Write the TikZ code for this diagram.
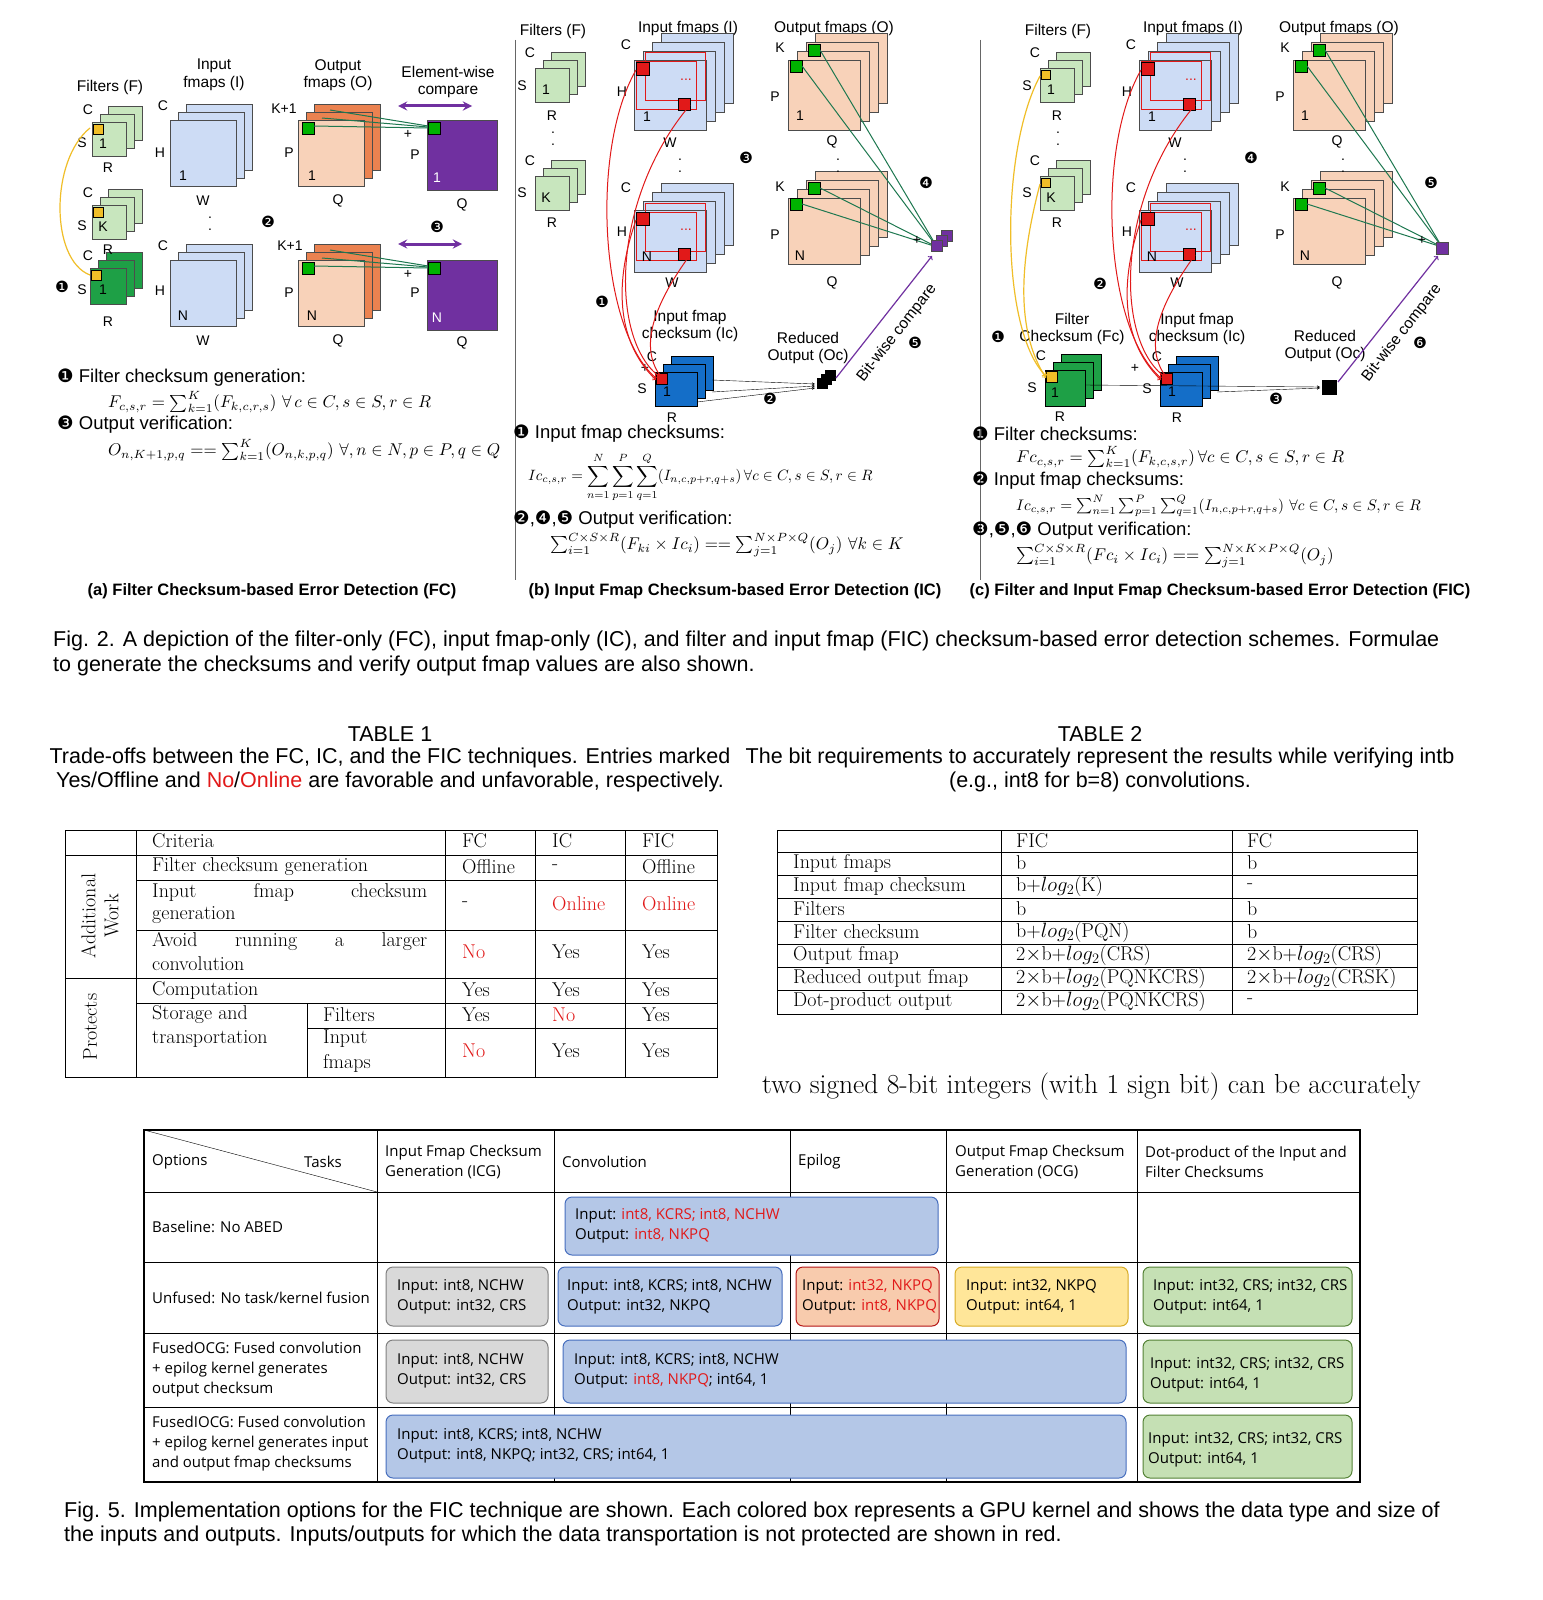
\documentclass[tikz,border=0pt]{standalone}
\usepackage{amsmath,amssymb}
\usepackage{fontspec}
\newfontfamily\lsans{Liberation Sans}
\newfontfamily\osans{Open Sans}
\newfontfamily\dvs{DejaVu Sans}
\newcommand\circnum[1]{{\dvs #1}}
\newcommand\fm[1]{\scalebox{1.7}{\normalsize #1}}
\newcommand\stk[7]{\foreach \i in {#5,...,0}{\draw[#7] ({#1+\i*#6},{#2-\i*#6}) rectangle ++(#3,#4);}}
\definecolor{lgreen}{RGB}{200,230,190}
\definecolor{dgreen}{RGB}{30,160,70}
\definecolor{lblue}{RGB}{205,220,245}
\definecolor{mblue}{RGB}{20,110,200}
\definecolor{peach}{RGB}{248,210,185}
\definecolor{dorange}{RGB}{235,130,80}
\definecolor{purp}{RGB}{112,48,160}
\definecolor{kgreen}{RGB}{30,120,80}
\definecolor{myred}{RGB}{225,25,25}
\definecolor{ygold}{RGB}{240,190,40}
\definecolor{bfill}{RGB}{180,199,231}
\definecolor{bdraw}{RGB}{70,110,190}
\definecolor{gfill}{RGB}{217,217,217}
\definecolor{ofill}{RGB}{248,203,173}
\definecolor{yfill}{RGB}{255,230,153}
\definecolor{grfill}{RGB}{197,224,180}
\definecolor{grdraw}{RGB}{84,130,53}
\tikzset{
 lab/.style={font=\lsans\fontsize{15.5}{17.5}\selectfont, inner sep=0pt, align=center},
 sm/.style={font=\lsans\fontsize{14}{16}\selectfont, inner sep=0pt},
 txt/.style={font=\lsans\fontsize{18.5}{21}\selectfont, inner sep=0pt, anchor=west},
 fml/.style={inner sep=0pt, anchor=west},
 capt/.style={font=\lsans\fontsize{21.5}{25}\selectfont, inner sep=0pt, anchor=west},
 tb/.style={font=\fontsize{20}{23}\selectfont, inner sep=0pt, anchor=west},
 fs/.style={font=\osans\fontsize{15}{20}\selectfont, inner sep=0pt, anchor=west, align=left},
 kbox/.style={rounded corners=7pt, line width=1pt},
 fg/.style={draw=black!70, fill=lgreen},
 fdg/.style={draw=black!70, fill=dgreen},
 fb/.style={draw=black!70, fill=lblue},
 fo/.style={draw=black!70, fill=peach},
 fob/.style={draw=black!70, fill=dorange},
 fp/.style={draw=black!70, fill=purp},
 gsq/.style={draw=black, fill=green!70!black},
 rsq/.style={draw=black, fill=myred},
 ysq/.style={draw=black, fill=ygold},
 gl/.style={kgreen, line width=1pt},
 sub/.style={font=\lsans\bfseries\fontsize{16.5}{18}\selectfont, inner sep=0pt},
}
\begin{document}
\begin{tikzpicture}[x=1pt,y=-1pt]
\useasboundingbox[fill=white] (0,0) rectangle (1542,1600);
% separators
\draw[black!60] (515,40) -- (515,580);
\draw[black!60] (980,40) -- (980,580);
%================ (a)
\node[lab] (fa) at (110,87) {Filters (F)};
\stk{92}{122}{34}{34}{2}{8}{fg}
\stk{92}{205}{34}{34}{2}{8}{fg}
\stk{90}{268}{36}{36}{2}{8}{fdg}
\draw[ysq] (93,124) rectangle ++(10,10);
\draw[ysq] (93,207) rectangle ++(10,10);
\draw[ysq] (91,270) rectangle ++(10,10);
\foreach \yy/\t in {122/1,205/K,268/1}{\node[sm] at (103,\yy+22) {\t};}
\node[sm] at (88,110){C};\node[sm] at (82,143){S};\node[sm] at (108,168){R};
\node[sm] at (88,193){C};\node[sm] at (82,226){S};\node[sm] at (108,250){R};
\node[sm] at (88,256){C};\node[sm] at (82,290){S};\node[sm] at (108,322){R};
\draw[ygold, line width=1.2pt] (90,128) .. controls (50,160) and (50,260) .. (90,275);
\node[lab] at (62,287) {\circnum{❶}};
\node[lab] at (214,75) {Input\\fmaps (I)};
\stk{170}{120}{66}{66}{2}{8}{fb}
\stk{170}{260}{66}{66}{2}{8}{fb}
\node[sm] at (183,176){1};\node[sm] at (160,153){H};\node[sm] at (163,106){C};\node[sm] at (203,201){W};
\node[sm] at (183,316){N};\node[sm] at (160,291){H};\node[sm] at (163,246){C};\node[sm] at (203,341){W};
\node[sm] at (210,218){.};\node[sm] at (210,230){.};
\node[lab] at (338,75) {Output\\fmaps (O)};
\stk{298}{120}{66}{66}{2}{8}{fob}
\draw[fo] (298,120) rectangle ++(66,66);
\stk{298}{260}{66}{66}{2}{8}{fob}
\draw[fo] (298,260) rectangle ++(66,66);
\draw[gsq] (302,122) rectangle ++(12,12);\draw[gsq] (302,262) rectangle ++(12,12);
\node[sm] at (284,109){K+1};\node[sm] at (289,153){P};\node[sm] at (338,201){Q};\node[sm] at (312,176){1};
\node[sm] at (290,246){K+1};\node[sm] at (289,293){P};\node[sm] at (338,341){Q};\node[sm] at (312,316){N};
\node[lab] at (268,222) {\circnum{❷}};
\node[lab] at (448,82) {Element-wise\\compare};
\draw[purp, line width=3pt, <->, >=stealth] (398,106) -- (472,106);
\draw[purp, line width=3pt, <->, >=stealth] (398,244) -- (462,244);
\draw[fp] (427,120) rectangle ++(70,70);\draw[fp] (427,260) rectangle ++(70,70);
\draw[gsq] (428,122) rectangle ++(12,12);\draw[gsq] (428,262) rectangle ++(12,12);
\node[sm] at (415,155){P};\node[sm] at (462,205){Q};\node[sm,white] at (437,178){1};
\node[sm] at (415,293){P};\node[sm] at (462,343){Q};\node[sm,white] at (437,318){N};
\node[lab] at (437,227){\circnum{❸}};
\foreach \dy in {0,140}{
 \draw[gl] (314,{126+\dy}) -- (428,{128+\dy});
 \draw[gl] (322,{118+\dy}) -- (428,{127+\dy});
 \draw[gl] (330,{110+\dy}) -- (428,{126+\dy});
 \node[sm] at (408,{134+\dy}){+};}
\node[txt] at (57,378) {\circnum{❶} Filter checksum generation:};
\node[fml] at (108,402) {\fm{$F_{c,s,r}=\sum_{k=1}^{K}(F_{k,c,r,s})\ \forall\, c\in C, s\in S, r\in R$}};
\node[txt] at (57,425) {\circnum{❸} Output verification:};
\node[fml] at (108,450) {\fm{$O_{n,K+1,p,q}==\sum_{k=1}^{K}(O_{n,k,p,q})\ \forall, n\in N, p\in P, q\in Q$}};
\node[sub] at (272,591) {(a) Filter Checksum-based Error Detection (FC)};
%================ (b) and (c) common parts
\foreach \ox/\nf/\nd in {0/❸/❹, 505/❹/❺}{
 \begin{scope}[xshift=\ox]
 \node[lab] at (553,31){Filters (F)};
 \stk{535}{68}{34}{34}{2}{8}{fg}
 \stk{535}{176}{34}{34}{2}{8}{fg}
 \node[sm] at (546,90){1};\node[sm] at (546,198){K};
 \node[sm] at (530,53){C};\node[sm] at (522,86){S};\node[sm] at (552,116){R};
 \node[sm] at (530,161){C};\node[sm] at (522,193){S};\node[sm] at (552,223){R};
 \node[sm] at (553,133){.};\node[sm] at (553,145){.};
 \node[lab] at (688,28){Input fmaps (I)};
 \stk{634}{60}{72}{70}{3}{9}{fb}
 \stk{634}{210}{72}{62}{3}{9}{fb}
 \foreach \yy in {60,210}{
  \draw[myred,line width=1pt] (636,\yy+2) rectangle ++(60,48);
  \draw[myred,line width=1pt] (645,\yy-7) rectangle ++(60,48);
  \draw[rsq] (636,\yy+2) rectangle ++(13,13);
  \draw[rsq] (678,\yy+38) rectangle ++(12,12);
  \node[sm,myred] at (686,\yy+20){...};}
 \node[sm] at (626,45){C};\node[sm] at (622,92){H};\node[sm] at (647,117){1};\node[sm] at (670,143){W};
 \node[sm] at (626,188){C};\node[sm] at (622,232){H};\node[sm] at (647,257){N};\node[sm] at (672,283){W};
 \node[sm] at (680,160){.};\node[sm] at (680,172){.};
 \node[lab] at (834,28){Output fmaps (O)};
 \stk{788}{60}{72}{70}{3}{9}{fo}
 \stk{788}{198}{72}{66}{3}{9}{fo}
 \draw[gsq] (790,60) rectangle ++(12,12);\draw[gsq] (808,44) rectangle ++(12,12);
 \draw[gsq] (790,198) rectangle ++(12,12);\draw[gsq] (808,182) rectangle ++(12,12);
 \node[sm] at (780,48){K};\node[sm] at (775,97){P};\node[sm] at (800,116){1};\node[sm] at (832,142){Q};
 \node[sm] at (780,187){K};\node[sm] at (775,235){P};\node[sm] at (800,256){N};\node[sm] at (832,283){Q};
 \node[sm] at (838,160){.};\node[sm] at (838,172){.};
 \node[lab] at (746,158){\circnum{\nf}};
 \node[lab] at (926,183){\circnum{\nd}};
 \coordinate (pp) at (937,247);
 \draw[gl] (802,66) -- (pp); \draw[gl] (820,50) -- (pp);
 \draw[gl] (802,204) -- (pp); \draw[gl] (820,188) -- (pp);
 \node[sm] at (917,240){+};
 \end{scope}}
% (b) specific
\stk{931}{240}{11}{11}{2}{5}{fp}
\node[lab] at (690,326){Input fmap\\checksum (Ic)};
\stk{655}{372}{42}{34}{2}{8}{draw=black, fill=mblue}
\draw[rsq] (656,373) rectangle ++(11,11);
\node[sm] at (652,357){C};\node[sm] at (642,389){S};\node[sm] at (667,392){1};\node[sm] at (672,418){R};
\node[sm] at (645,368){+};
\draw[myred,line width=1pt,->] (636,70) .. controls (590,150) and (600,330) .. (656,378);
\draw[myred,line width=1pt,->] (690,105) .. controls (610,200) and (610,340) .. (660,377);
\draw[myred,line width=1pt,->] (636,220) .. controls (615,280) and (615,340) .. (656,380);
\draw[myred,line width=1pt,->] (690,255) .. controls (650,310) and (640,350) .. (662,378);
\node[lab] at (602,302){\circnum{❶}};
\node[lab] at (808,348){Reduced\\Output (Oc)};
\stk{817}{378}{10}{10}{2}{4}{draw=black,fill=black}
\draw[->,>=stealth] (712,380) -- (815,384);\draw[->,>=stealth] (712,392) -- (815,386);\draw[->,>=stealth] (697,402) -- (815,388);
\node[lab] at (770,399){\circnum{❷}};
\draw[purp,line width=1.2pt,->] (836,378) -- (932,256);
\node[lab, rotate=52] at (897,333){Bit-wise compare};
\node[lab] at (915,343){\circnum{❺}};
\node[txt] at (513,434){\circnum{❶} Input fmap checksums:};
\node[fml] at (528,477){\scalebox{0.88}{\fm{$Ic_{c,s,r}=\displaystyle\sum_{n=1}^{N}\sum_{p=1}^{P}\sum_{q=1}^{Q}(I_{n,c,p+r,q+s})\,\forall c\in C, s\in S, r\in R$}}};
\node[txt] at (513,520){\circnum{❷},\circnum{❹},\circnum{❺} Output verification:};
\node[fml] at (550,545){\fm{$\sum_{i=1}^{C\times S\times R}(F_{ki}\times Ic_i)==\sum_{j=1}^{N\times P\times Q}(O_j)\ \forall k\in K$}};
\node[sub] at (735,591) {(b) Input Fmap Checksum-based Error Detection (IC)};
% (c) specific
\draw[fp] (1436,242) rectangle ++(12,12);
\draw[ysq] (1041,70) rectangle ++(9,9);\draw[ysq] (1041,178) rectangle ++(9,9);
\node[lab] at (1072,329){Filter\\Checksum (Fc)};
\stk{1045}{370}{40}{36}{2}{8}{draw=black, fill=dgreen}
\draw[ysq] (1046,371) rectangle ++(11,11);
\node[sm] at (1041,356){C};\node[sm] at (1032,388){S};\node[sm] at (1055,393){1};\node[sm] at (1060,417){R};
\draw[ygold,line width=1.2pt,->] (1040,76) .. controls (1000,150) and (1000,330) .. (1046,376);
\draw[ygold,line width=1.2pt,->] (1040,184) .. controls (1020,260) and (1015,330) .. (1046,378);
\node[lab] at (998,337){\circnum{❶}};
\node[lab] at (1197,329){Input fmap\\checksum (Ic)};
\stk{1160}{372}{42}{34}{2}{8}{draw=black, fill=mblue}
\draw[rsq] (1161,373) rectangle ++(11,11);
\node[sm] at (1157,357){C};\node[sm] at (1147,389){S};\node[sm] at (1172,392){1};\node[sm] at (1177,418){R};
\node[sm] at (1135,368){+};
\draw[myred,line width=1pt,->] (1141,70) .. controls (1095,150) and (1105,330) .. (1161,378);
\draw[myred,line width=1pt,->] (1195,105) .. controls (1115,200) and (1115,340) .. (1165,377);
\draw[myred,line width=1pt,->] (1141,220) .. controls (1120,280) and (1120,340) .. (1161,380);
\draw[myred,line width=1pt,->] (1195,255) .. controls (1155,310) and (1145,350) .. (1167,378);
\node[lab] at (1100,284){\circnum{❷}};
\node[lab] at (1325,346){Reduced\\Output (Oc)};
\draw[fill=black] (1322,380) rectangle ++(14,14);
\draw[->,>=stealth] (1085,385) -- (1320,387);\draw[->,>=stealth] (1217,392) -- (1320,388);
\node[lab] at (1276,399){\circnum{❸}};
\draw[purp,line width=1.2pt,->] (1338,382) -- (1438,256);
\node[lab, rotate=52] at (1402,333){Bit-wise compare};
\node[lab] at (1420,343){\circnum{❻}};
\node[txt] at (972,434){\circnum{❶} Filter checksums:};
\node[fml] at (1016,457){\fm{$Fc_{c,s,r}=\sum_{k=1}^{K}(F_{k,c,s,r})\,\forall c\in C, s\in S, r\in R$}};
\node[txt] at (972,481){\circnum{❷} Input fmap checksums:};
\node[fml] at (1016,506){\scalebox{0.9}{\fm{$Ic_{c,s,r}=\sum_{n=1}^{N}\sum_{p=1}^{P}\sum_{q=1}^{Q}(I_{n,c,p+r,q+s})\ \forall c\in C, s\in S, r\in R$}}};
\node[txt] at (972,531){\circnum{❸},\circnum{❺},\circnum{❻} Output verification:};
\node[fml] at (1016,556){\fm{$\sum_{i=1}^{C\times S\times R}(Fc_i\times Ic_i)==\sum_{j=1}^{N\times K\times P\times Q}(O_j)$}};
\node[sub] at (1220,591) {(c) Filter and Input Fmap Checksum-based Error Detection (FIC)};
%================ Fig 2 caption
\node[capt] at (53,641){Fig. 2. A depiction of the filter-only (FC), input fmap-only (IC), and filter and input fmap (FIC) checksum-based error detection schemes. Formulae};
\node[capt] at (53,666){to generate the checksums and verify output fmap values are also shown.};
%================ Table 1
\node[capt,anchor=center] at (390,734){TABLE 1};
\node[capt,anchor=center] at (390,758){Trade-offs between the FC, IC, and the FIC techniques. Entries marked};
\node[capt,anchor=center] at (390,782){Yes/Offline and {\color{myred}No}/{\color{myred}Online} are favorable and unfavorable, respectively.};
\draw (65,830) rectangle (717,1077);
\draw (136,830) -- (136,1077);
\draw (445,830) -- (445,1077);\draw (535,830) -- (535,1077);\draw (625,830) -- (625,1077);
\draw (65,855) -- (717,855);\draw (136,880) -- (717,880);\draw (136,930) -- (717,930);
\draw (65,978) -- (717,978);\draw (136,1003) -- (717,1003);\draw (307,1028) -- (717,1028);
\draw (307,1003) -- (307,1077);
\node[tb] at (152,841){Criteria};\node[tb] at (462,841){FC};\node[tb] at (552,841){IC};\node[tb] at (642,841){FIC};
\node[tb] at (152,867){Filter checksum generation};\node[tb] at (462,867){Offline};\node[tb] at (552,867){-};\node[tb] at (642,867){Offline};
\node[tb] at (152,892){\makebox[275pt][s]{Input fmap checksum}};\node[tb] at (152,915){generation};
\node[tb] at (462,904){-};\node[tb,myred] at (552,904){Online};\node[tb,myred] at (642,904){Online};
\node[tb] at (152,941){\makebox[275pt][s]{Avoid running a larger}};\node[tb] at (152,964){convolution};
\node[tb,myred] at (462,952){No};\node[tb] at (552,952){Yes};\node[tb] at (642,952){Yes};
\node[tb] at (152,990){Computation};\node[tb] at (462,990){Yes};\node[tb] at (552,990){Yes};\node[tb] at (642,990){Yes};
\node[tb] at (152,1015){Storage and};\node[tb] at (152,1039){transportation};
\node[tb] at (323,1015){Filters};\node[tb] at (462,1015){Yes};\node[tb,myred] at (552,1015){No};\node[tb] at (642,1015){Yes};
\node[tb] at (323,1039){Input};\node[tb] at (323,1063){fmaps};
\node[tb,myred] at (462,1051){No};\node[tb] at (552,1051){Yes};\node[tb] at (642,1051){Yes};
\node[tb,rotate=90,anchor=center,align=center] at (100,916){Additional\\Work};
\node[tb,rotate=90,anchor=center] at (90,1027){Protects};
%================ Table 2
\node[capt,anchor=center] at (1100,734){TABLE 2};
\node[capt,anchor=center] at (1100,758){The bit requirements to accurately represent the results while verifying intb};
\node[capt,anchor=center] at (1100,782){(e.g., int8 for b=8) convolutions.};
\draw (777,830) rectangle (1417,1014);
\draw (1001,830) -- (1001,1014);\draw (1232,830) -- (1232,1014);
\foreach \yy in {852,875,898,921,944,967,990}{\draw (777,\yy) -- (1417,\yy);}
\node[tb] at (1016,841){FIC};\node[tb] at (1247,841){FC};
\foreach \yy/\a/\b/\c in {863/Input fmaps/b/b,
 886/Input fmap checksum/b+$log_2$(K)/-,
 909/Filters/b/b,
 932/Filter checksum/b+$log_2$(PQN)/b,
 955/Output fmap/2$\times$b+$log_2$(CRS)/2$\times$b+$log_2$(CRS),
 978/Reduced output fmap/2$\times$b+$log_2$(PQNKCRS)/2$\times$b+$log_2$(CRSK),
 1001/Dot-product output/2$\times$b+$log_2$(PQNKCRS)/-}{
 \node[tb] at (793,\yy){\a};\node[tb] at (1016,\yy){\b};\node[tb] at (1247,\yy){\c};}
\node[tb,font=\fontsize{27.5}{30}\selectfont] at (762,1087){two signed 8-bit integers (with 1 sign bit) can be accurately};
%================ Fig 5 table
\draw[line width=1.2pt] (144,1130) rectangle (1360,1482);
\foreach \xx in {377,554,790,946,1137}{\draw[line width=1pt] (\xx,1130) -- (\xx,1482);}
\foreach \yy in {1192,1262,1333,1407}{\draw[line width=1pt] (144,\yy) -- (1360,\yy);}
\draw (144,1130) -- (377,1192);
\node[fs] at (152,1162){Options};\node[fs] at (304,1162){Tasks};
\node[fs] at (385,1162){Input Fmap Checksum\\Generation (ICG)};
\node[fs] at (562,1162){Convolution};
\node[fs] at (798,1162){Epilog};
\node[fs] at (955,1162){Output Fmap Checksum\\Generation (OCG)};
\node[fs] at (1145,1162){Dot-product of the Input and\\Filter Checksums};
\node[fs] at (152,1227){Baseline: No ABED};
\node[fs] at (152,1298){Unfused: No task/kernel fusion};
\node[fs] at (152,1370){FusedOCG: Fused convolution\\+ epilog kernel generates\\output checksum};
\node[fs] at (152,1444){FusedIOCG: Fused convolution\\+ epilog kernel generates input\\and output fmap checksums};
% boxes
\draw[kbox,draw=bdraw,fill=bfill] (565,1197) rectangle (938,1255);
\node[fs] at (575,1226){Input: {\color{myred}int8, KCRS; int8, NCHW}\\Output: {\color{myred}int8, NKPQ}};
\draw[kbox,draw=black!50,fill=gfill] (386,1267) rectangle (548,1326);
\node[fs] at (397,1297){Input: int8, NCHW\\Output: int32, CRS};
\draw[kbox,draw=bdraw,fill=bfill] (558,1267) rectangle (782,1326);
\node[fs] at (567,1297){Input: int8, KCRS; int8, NCHW\\Output: int32, NKPQ};
\draw[kbox,draw=myred!80!black,fill=ofill] (796,1267) rectangle (939,1326);
\node[fs] at (802,1297){Input: {\color{myred}int32, NKPQ}\\Output: {\color{myred}int8, NKPQ}};
\draw[kbox,draw=ygold!90!black,fill=yfill] (955,1267) rectangle (1128,1326);
\node[fs] at (966,1297){Input: int32, NKPQ\\Output: int64, 1};
\draw[kbox,draw=grdraw,fill=grfill] (1143,1267) rectangle (1352,1326);
\node[fs] at (1153,1297){Input: int32, CRS; int32, CRS\\Output: int64, 1};
\draw[kbox,draw=black!50,fill=gfill] (386,1340) rectangle (548,1403);
\node[fs] at (397,1371){Input: int8, NCHW\\Output: int32, CRS};
\draw[kbox,draw=bdraw,fill=bfill] (563,1340) rectangle (1126,1403);
\node[fs] at (574,1371){Input: int8, KCRS; int8, NCHW\\Output: {\color{myred}int8, NKPQ}; int64, 1};
\draw[kbox,draw=grdraw,fill=grfill] (1143,1340) rectangle (1352,1403);
\node[fs] at (1150,1375){Input: int32, CRS; int32, CRS\\Output: int64, 1};
\draw[kbox,draw=bdraw,fill=bfill] (386,1415) rectangle (1126,1478);
\node[fs] at (397,1446){Input: int8, KCRS; int8, NCHW\\Output: int8, NKPQ; int32, CRS; int64, 1};
\draw[kbox,draw=grdraw,fill=grfill] (1143,1415) rectangle (1352,1478);
\node[fs] at (1148,1450){Input: int32, CRS; int32, CRS\\Output: int64, 1};
\node[capt] at (64,1512){Fig. 5. Implementation options for the FIC technique are shown. Each colored box represents a GPU kernel and shows the data type and size of};
\node[capt] at (64,1536){the inputs and outputs. Inputs/outputs for which the data transportation is not protected are shown in red.};
\end{tikzpicture}
\end{document}
